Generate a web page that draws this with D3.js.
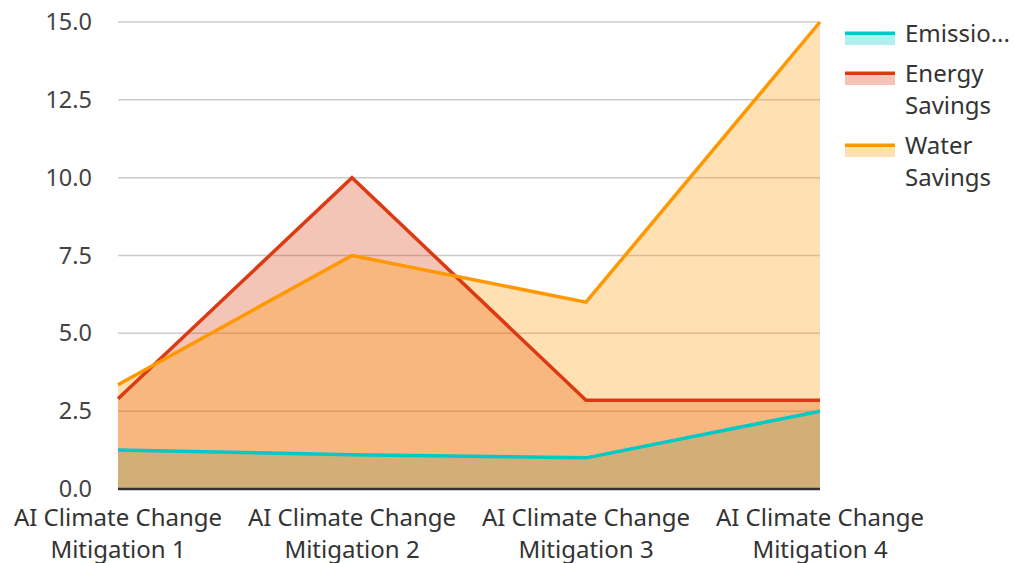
<!DOCTYPE html>
<html>
<head>
<meta charset="utf-8">
<script src="https://cdn.jsdelivr.net/npm/d3@7/dist/d3.min.js"></script>
<style>
  html, body { margin: 0; padding: 0; background: #fff; }
  svg { display: block; font-family: "Noto Sans", "Open Sans", sans-serif; }
</style>
</head>
<body>
<svg id="chart" width="1015" height="563"></svg>
<script>
// Categories along the x axis (two-line labels)
const categories = [
  ["AI Climate Change", "Mitigation 1"],
  ["AI Climate Change", "Mitigation 2"],
  ["AI Climate Change", "Mitigation 3"],
  ["AI Climate Change", "Mitigation 4"]
];
// Series values
const emissionsValues = [1.25, 1.1, 1.0, 2.5];
const energyValues = [2.9, 10.0, 2.85, 2.85];
const waterValues = [3.35, 7.5, 6.0, 15.0];
// Y axis ticks
const yTicks = [0, 2.5, 5, 7.5, 10, 12.5, 15];

const seriesNames = ["Emissions Reduction", "Energy Savings", "Water Savings"];
const legendLabels = [["Emissio..."], ["Energy", "Savings"], ["Water", "Savings"]];
const seriesColors = ["#00c9c6", "#dc3a12", "#ff9800"];

const series = [
  { name: seriesNames[0], values: emissionsValues, color: seriesColors[0], legend: legendLabels[0] },
  { name: seriesNames[1], values: energyValues, color: seriesColors[1], legend: legendLabels[1] },
  { name: seriesNames[2], values: waterValues, color: seriesColors[2], legend: legendLabels[2] }
];

const svg = d3.select("#chart");
const margin = { left: 118, right: 195, top: 22, bottom: 74 };
const W = 1015, H = 563;

const x = d3.scalePoint()
  .domain(d3.range(categories.length))
  .range([margin.left, W - margin.right]);
const y = d3.scaleLinear()
  .domain([0, 15])
  .range([H - margin.bottom, margin.top]);

const textColor = "#333";

// Gridlines
svg.append("g")
  .selectAll("line")
  .data(yTicks.filter(t => t > 0))
  .join("line")
  .attr("x1", margin.left)
  .attr("x2", W - margin.right)
  .attr("y1", d => y(d))
  .attr("y2", d => y(d))
  .attr("stroke", "#cccccc")
  .attr("stroke-width", 1.5);

// Y axis labels
const yAxis = d3.axisLeft(y).tickValues(yTicks).tickFormat(d3.format(".1f")).tickSize(0).tickPadding(26);
const yg = svg.append("g").attr("transform", `translate(${margin.left},0)`).call(yAxis);
yg.select(".domain").remove();
yg.selectAll("text")
  .attr("fill", "#444")
  .style("font-size", "23.5px")
  .style("font-family", "'Noto Sans', sans-serif");

// Areas and lines
const area = d3.area()
  .x((d, i) => x(i))
  .y0(y(0))
  .y1(d => y(d));
const line = d3.line()
  .x((d, i) => x(i))
  .y(d => y(d));

series.forEach(s => {
  svg.append("path")
    .datum(s.values)
    .attr("d", area)
    .attr("fill", s.color)
    .attr("fill-opacity", 0.3);
});
series.forEach(s => {
  svg.append("path")
    .datum(s.values)
    .attr("d", line)
    .attr("fill", "none")
    .attr("stroke", s.color)
    .attr("stroke-width", 3.5)
    .attr("stroke-linejoin", "miter");
});

// X axis baseline
svg.append("line")
  .attr("x1", margin.left)
  .attr("x2", W - margin.right)
  .attr("y1", y(0))
  .attr("y2", y(0))
  .attr("stroke", "#333")
  .attr("stroke-width", 2.5);

// X axis labels
const xl = svg.append("g")
  .selectAll("text")
  .data(categories)
  .join("text")
  .attr("x", (d, i) => x(i))
  .attr("y", 526)
  .attr("text-anchor", "middle")
  .attr("fill", textColor)
  .style("font-size", "24px");
xl.each(function(d) {
  const t = d3.select(this);
  d.forEach((ln, j) => {
    t.append("tspan").attr("x", t.attr("x")).attr("dy", j === 0 ? 0 : 32).text(ln);
  });
});

// Legend
const legendY = [33, 73, 145];
const lg = svg.append("g");
series.forEach((s, i) => {
  const g = lg.append("g").attr("transform", `translate(845,${legendY[i]})`);
  g.append("rect").attr("x", 0).attr("y", 0).attr("width", 50).attr("height", 12)
    .attr("fill", s.color).attr("fill-opacity", 0.3);
  g.append("rect").attr("x", 0).attr("y", -1.5).attr("width", 50).attr("height", 3.5)
    .attr("fill", s.color);
  const t = g.append("text")
    .attr("x", 60)
    .attr("y", 9)
    .attr("fill", textColor)
    .style("font-size", "24px");
  s.legend.forEach((ln, j) => {
    t.append("tspan").attr("x", 60).attr("dy", j === 0 ? 0 : 32).text(ln);
  });
});
</script>
</body>
</html>
